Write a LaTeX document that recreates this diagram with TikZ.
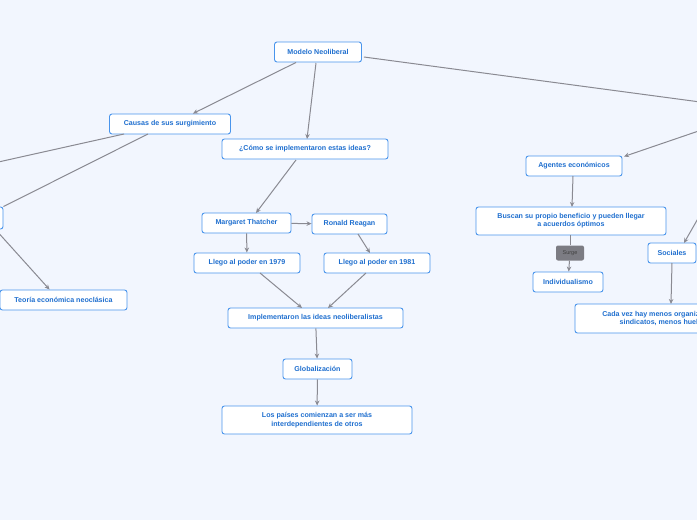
\documentclass[tikz,border=0pt]{standalone}
\usepackage{fontspec}
\setmainfont{Liberation Sans}
\usetikzlibrary{arrows.meta,calc}
\definecolor{bg}{HTML}{F2F6FE}
\definecolor{tb}{HTML}{1F6FCF}
\definecolor{bd}{HTML}{4A95EC}
\definecolor{ln}{HTML}{8A8A92}
\tikzset{
 box/.style={draw=bd,line width=0.9pt,rounded corners=2.5pt,fill=white,text=tb,font=\fontsize{7.1}{8.3}\selectfont\bfseries,align=center,inner sep=0pt,minimum height=20pt},
 con/.style={draw=ln,line width=1pt,-{Stealth[length=5pt,width=4.5pt]}},
 plain/.style={draw=ln,line width=1pt},
}
\begin{document}
\begin{tikzpicture}[x=1pt,y=-1pt]
\useasboundingbox (0,0) rectangle (697,520);
\clip (0,0) rectangle (697,520);
\fill[bg] (0,0) rectangle (697,520);
\coordinate (offR) at (760,110);
\coordinate (offL) at (-60,175);
\node[box,minimum width=87pt] (mod) at (318,52) {Modelo Neoliberal};
\node[box,minimum width=121pt] (cau) at (170,124) {Causas de sus surgimiento};
\node[box,minimum width=166pt] (como) at (305,149) {¿Cómo se implementaron estas ideas?};
\node[box,minimum width=80pt,minimum height=22pt] (left) at (-37,218) {};
\node[box,minimum width=127pt] (teo) at (63.5,300) {Teoría económica neoclásica};
\node[box,minimum width=89pt] (mt) at (246.5,223) {Margaret Thatcher};
\node[box,minimum width=75pt] (rr) at (349.5,224) {Ronald Reagan};
\node[box,minimum width=106pt] (l79) at (247,263) {Llego al poder en 1979};
\node[box,minimum width=106pt] (l81) at (377,263) {Llego al poder en 1981};
\node[box,minimum width=175pt] (imp) at (315.5,318) {Implementaron las ideas neoliberalistas};
\node[box,minimum width=69pt] (glo) at (317.5,369) {Globalización};
\node[box,minimum width=190pt,minimum height=28pt] (pai) at (317,420) {Los países comienzan a ser más\\interdependientes de otros};
\node[box,minimum width=96pt] (age) at (574,166) {Agentes económicos};
\node[box,minimum width=190pt,minimum height=28pt] (bus) at (571,221) {Buscan su propio beneficio y pueden llegar\\a acuerdos óptimos};
\node[fill=ln!90!black,rounded corners=2pt,text=black!75,font=\fontsize{5.5}{6}\selectfont,minimum width=28pt,minimum height=15pt,inner sep=0pt] (sur) at (570,253) {Surge};
\node[box,minimum width=70pt] (ind) at (568,282) {Individualismo};
\node[box,minimum width=48pt] (soc) at (672,253) {Sociales};
\node[box,minimum width=180pt,minimum height=29pt] (cad) at (665,318.5) {Cada vez hay menos organizaciones,\\sindicatos, menos huelgas};
\draw[con] ($(mod.south west)+(22,0)$) -- ($(cau.north east)+(-38,0)$);
\draw[con] (316,63) -- (307,139);
\draw[plain] ($(mod.east)+(2,5)$) -- (offR);
\draw[plain] (124,134) -- (offL);
\draw[plain] (148,134) -- (left.north east);
\draw[con] (-5,229) -- ($(teo.north west)+(50,0)$);
\draw[con] (296,160) -- (256,213);
\draw[con] (mt) -- (rr);
\draw[con] (mt) -- (l79);
\draw[con] (358,234) -- (370,253);
\draw[con] (260,273) -- (302,308);
\draw[con] (366,273) -- (328,308);
\draw[con] (imp) -- (glo);
\draw[con] (glo) -- (pai);
\draw[con] (offR) -- (624,156.5);
\draw[con] (573,176) -- (572,207);
\draw[plain] (bus.south -| sur) -- (sur);
\draw[con] (sur) -- (ind);
\draw[con] (offR) -- (684,243);
\draw[con] (672,263) -- (671,304);
\end{tikzpicture}
\end{document}
